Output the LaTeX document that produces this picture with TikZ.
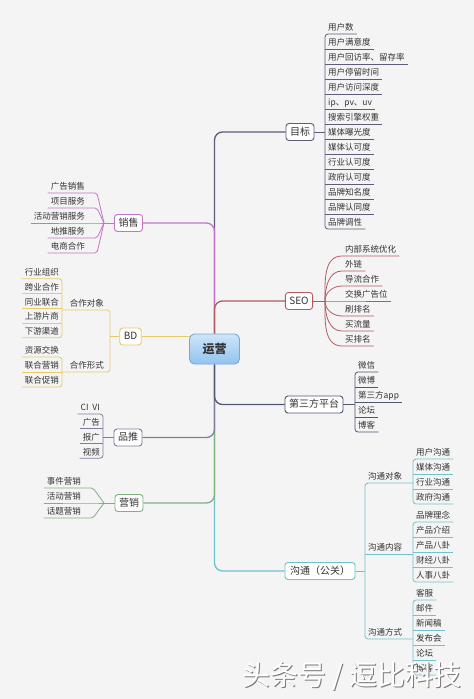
\documentclass[tikz,border=0pt]{standalone}
\usepackage{fontspec}
\setmainfont{Noto Sans CJK SC}
\definecolor{bgc}{HTML}{F4F4F4}
\definecolor{txt}{HTML}{333333}
\definecolor{cMB}{HTML}{5F5B7A}
\definecolor{cXS}{HTML}{C573C8}
\definecolor{cSEO}{HTML}{B45A5F}
\definecolor{cBD}{HTML}{E8C96A}
\definecolor{cDS}{HTML}{4E5873}
\definecolor{cPT}{HTML}{7E7E9C}
\definecolor{cYX}{HTML}{7DB27D}
\definecolor{cGT}{HTML}{70C3CB}
\definecolor{cMainTop}{HTML}{CDE5FA}
\definecolor{cMainBot}{HTML}{93C3EE}
\definecolor{cMainBd}{HTML}{7AA8D6}
\definecolor{wmA}{HTML}{7A7A7A}
\definecolor{wmB}{HTML}{A8A8A8}
\pgfdeclarelayer{bg}
\pgfdeclarelayer{lines}
\pgfsetlayers{bg,lines,main}
\begin{document}
\begin{tikzpicture}[x=1pt,y=-1pt,
  item/.style={inner xsep=3pt, inner ysep=1.5pt, text height=7pt, text depth=1.5pt, font=\fontsize{8.5}{8.5}\selectfont, text=txt},
  topic/.style={draw=#1, line width=0.9pt, rounded corners=3pt, fill=white, inner xsep=4pt, inner ysep=2pt, minimum height=17pt, text height=8.5pt, text depth=2pt, font=\fontsize{10}{10}\selectfont, text=txt},
  central/.style={draw=cMainBd, line width=0.9pt, rounded corners=5pt, top color=cMainTop, bottom color=cMainBot, minimum width=50pt, minimum height=30pt, font=\fontsize{12}{12}\selectfont\bfseries, text=txt},
  trunk/.style={draw=#1, line width=1.3pt, rounded corners=8pt},
  twig/.style={draw=#1, line width=0.8pt},
  wm/.style={font=\fontsize{28}{28}\selectfont, inner sep=0pt}
]
\begin{pgfonlayer}{bg}
\fill[bgc] (0,0) rectangle (474,699);
\end{pgfonlayer}
\useasboundingbox (0,0) rectangle (474,699);

% ---------- main topics ----------
\node[central] (yy) at (214.5,349) {运营};
\node[topic=cMB] (mb) at (300,132) {目标};
\node[topic=cSEO] (seo) at (299,301) {SEO};
\node[topic=cDS] (ds) at (314,404.5) {第三方平台};
\node[topic=cGT, minimum width=70pt] (gt) at (320,571) {沟通（公关）};
\node[topic=cXS] (xs) at (128.5,223) {销售};
\node[topic=cBD] (bd) at (130.5,336.5) {BD};
\node[topic=cPT] (pt) at (128,437.5) {品推};
\node[topic=cYX] (yx) at (129,503) {营销};

% ---------- 目标 ----------
\coordinate (mbS) at (325,132);
\foreach \t [count=\i] in {用户数,用户满意度,用户回访率、留存率,用户停留时间,用户访问深度,{ip、pv、uv},搜索引擎权重,媒体曝光度,媒体认可度,行业认可度,政府认可度,品牌知名度,品牌认同度,品牌调性}
  \node[item, anchor=south west] (mb\i) at (325,19+15*\i) {\t};

% ---------- SEO ----------
\coordinate (seoJ) at (325,301);
\foreach \t [count=\i] in {内部系统优化,外链,导流合作,交换广告位,刷排名,买流量,买排名}
  \node[item, anchor=south west] (seo\i) at (342,241+15*\i) {\t};

% ---------- 第三方平台 ----------
\coordinate (dsS) at (355,404.5);
\foreach \t [count=\i] in {微信,微博,第三方app,论坛,博客}
  \node[item, anchor=south west] (ds\i) at (355,357+15*\i) {\t};

% ---------- 沟通（公关） ----------
\coordinate (gtS) at (365,571);
\coordinate (gtS2) at (413,571);
\node[item, anchor=south west] (gtA) at (365,483) {沟通对象};
\node[item, anchor=south west] (gtB) at (365,554) {沟通内容};
\node[item, anchor=south west] (gtC) at (365,639) {沟通方式};
\foreach \t [count=\i] in {用户沟通,媒体沟通,行业沟通,政府沟通}
  \node[item, anchor=south west] (gtA\i) at (413,444+15*\i) {\t};
\foreach \t [count=\i] in {品牌理念,产品介绍,产品八卦,财经八卦,人事八卦}
  \node[item, anchor=south west] (gtB\i) at (413,507+15*\i) {\t};
\foreach \t [count=\i] in {客服,邮件,新闻稿,发布会,论坛,博客}
  \node[item, anchor=south west] (gtC\i) at (413,585+15*\i) {\t};

% ---------- 销售 ----------
\coordinate (xsJ) at (104,223);
\foreach \t [count=\i] in {广告销售,项目服务,活动营销服务,地推服务,电商合作}
  \node[item, anchor=south east] (xs\i) at (88,178+15*\i) {\t};

% ---------- BD ----------
\coordinate (bdS) at (110,336.5);
\coordinate (bdS2) at (62,336.5);
\node[item, anchor=south east] (bdA) at (107,310) {合作对象};
\node[item, anchor=south east] (bdB) at (107,372) {合作形式};
\foreach \t [count=\i] in {行业组织,跨业合作,同业联合,上游片商,下游渠道}
  \node[item, anchor=south east] (bdA\i) at (62,264+14.75*\i) {\t};
\foreach \t [count=\i] in {资源交换,联合营销,联合促销}
  \node[item, anchor=south east] (bdB\i) at (62,342+15*\i) {\t};

% ---------- 品推 ----------
\coordinate (ptS) at (103,437.5);
\foreach \t [count=\i] in {CI\ \ VI,广告,报广,视频}
  \node[item, anchor=south east] (pt\i) at (103,399.25+14.75*\i) {\t};

% ---------- 营销 ----------
\coordinate (yxJ) at (104,503);
\foreach \t [count=\i] in {事件营销,活动营销,话题营销}
  \node[item, anchor=south east] (yx\i) at (84,473+15*\i) {\t};

% ================= connectors =================
\begin{pgfonlayer}{lines}
% trunk
\draw[trunk=cMB] (yy.north) -- (yy.north |- mb) -- (mb.west);
\draw[trunk=cXS] (yy.north) -- (yy.north |- xs) -- (xs.east);
\draw[trunk=cSEO] (yy.north) -- (yy.north |- seo) -- (seo.west);
\draw[trunk=cBD] (yy.center |- bd) -- (bd.east);
\draw[trunk=cGT] (yy.south) -- (yy.south |- gt) -- (gt.west);
\draw[trunk=cYX] (yy.south) -- (yy.south |- yx) -- (yx.east);
\draw[trunk=cPT] (yy.south) -- (yy.south |- pt) -- (pt.east);
\draw[trunk=cDS] (yy.south) -- (yy.south |- ds) -- (ds.west);

% 目标
\draw[twig=cMB] (mb.east) -- (mbS);
\draw[twig=cMB, rounded corners=3pt] (mb1.south east) -- (mb1.south west) -- (mb14.south west) -- (mb14.south east);
\foreach \i in {2,...,13} \draw[twig=cMB] (mb\i.south west) -- (mb\i.south east);

% SEO
\draw[twig=cSEO] (seo.east) -- (seoJ);
\foreach \i in {1,2,3} \draw[twig=cSEO] (seoJ) to[out=90,in=180] (seo\i.south west) -- (seo\i.south east);
\draw[twig=cSEO] (seoJ) -- (seo4.south west) -- (seo4.south east);
\foreach \i in {5,6,7} \draw[twig=cSEO] (seoJ) to[out=-90,in=180] (seo\i.south west) -- (seo\i.south east);

% 第三方平台
\draw[twig=cDS] (ds.east) -- (dsS);
\draw[twig=cDS, rounded corners=3pt] (ds1.south east) -- (ds1.south west) -- (ds5.south west) -- (ds5.south east);
\foreach \i in {2,3,4} \draw[twig=cDS] (ds\i.south west) -- (ds\i.south east);

% 沟通
\draw[twig=cGT] (gt.east) -- (gtS);
\draw[twig=cGT, rounded corners=3pt] (gtA.south west -| gtS2) -- (gtA.south west) -- (gtC.south west) -- (gtC.south west -| gtS2);
\draw[twig=cGT] (gtB.south west) -- (gtB.south west -| gtS2);
\draw[twig=cGT, rounded corners=3pt] (gtA1.south east) -- (gtA1.south west) -- (gtA4.south west) -- (gtA4.south east);
\foreach \i in {2,3} \draw[twig=cGT] (gtA\i.south west) -- (gtA\i.south east);
\draw[twig=cGT, rounded corners=3pt] (gtB1.south east) -- (gtB1.south west) -- (gtB5.south west) -- (gtB5.south east);
\foreach \i in {2,3,4} \draw[twig=cGT] (gtB\i.south west) -- (gtB\i.south east);
\draw[twig=cGT, rounded corners=3pt] (gtC1.south east) -- (gtC1.south west) -- (gtC6.south west) -- (gtC6.south east);
\foreach \i in {2,...,5} \draw[twig=cGT] (gtC\i.south west) -- (gtC\i.south east);

% 销售
\draw[twig=cXS] (xs.west) -- (xsJ);
\foreach \i in {1,...,5} \draw[twig=cXS, rounded corners=2pt] (xs\i.south west) -- (xs\i.south east) -- ++(9,0) -- (xsJ);

% BD
\draw[twig=cBD] (bd.west) -- (bdS);
\draw[twig=cBD, rounded corners=3pt] (bdA.south west -| bdS2) -- (bdA.south west -| bdS) -- (bdB.south west -| bdS) -- (bdB.south west -| bdS2);
\draw[twig=cBD, rounded corners=3pt] (bdA1.south west) -- (bdA1.south east) -- (bdA5.south east) -- (bdA5.south west);
\foreach \i in {2,3,4} \draw[twig=cBD] (bdA\i.south west) -- (bdA\i.south east);
\draw[twig=cBD, rounded corners=3pt] (bdB1.south west) -- (bdB1.south east) -- (bdB3.south east) -- (bdB3.south west);
\draw[twig=cBD] (bdB2.south west) -- (bdB2.south east);

% 品推
\draw[twig=cPT] (pt.west) -- (ptS);
\draw[twig=cPT, rounded corners=3pt] (pt1.south west) -- (pt1.south east) -- (pt4.south east) -- (pt4.south west);
\foreach \i in {2,3} \draw[twig=cPT] (pt\i.south west) -- (pt\i.south east);

% 营销
\draw[twig=cYX] (yx.west) -- (yxJ);
\foreach \i in {1,2,3} \draw[twig=cYX, rounded corners=2pt] (yx\i.south west) -- (yx\i.south east) -- ++(9,0) -- (yxJ);
\end{pgfonlayer}

% ---------- watermark (embossed white text) ----------
\node[wm, text=wmA] (wmS) at (352.8,676.8) {头条号 / 逗比科技};
\node[wm, text=white] (wm) at (352,676) {头条号 / 逗比科技};
\end{tikzpicture}
\end{document}
